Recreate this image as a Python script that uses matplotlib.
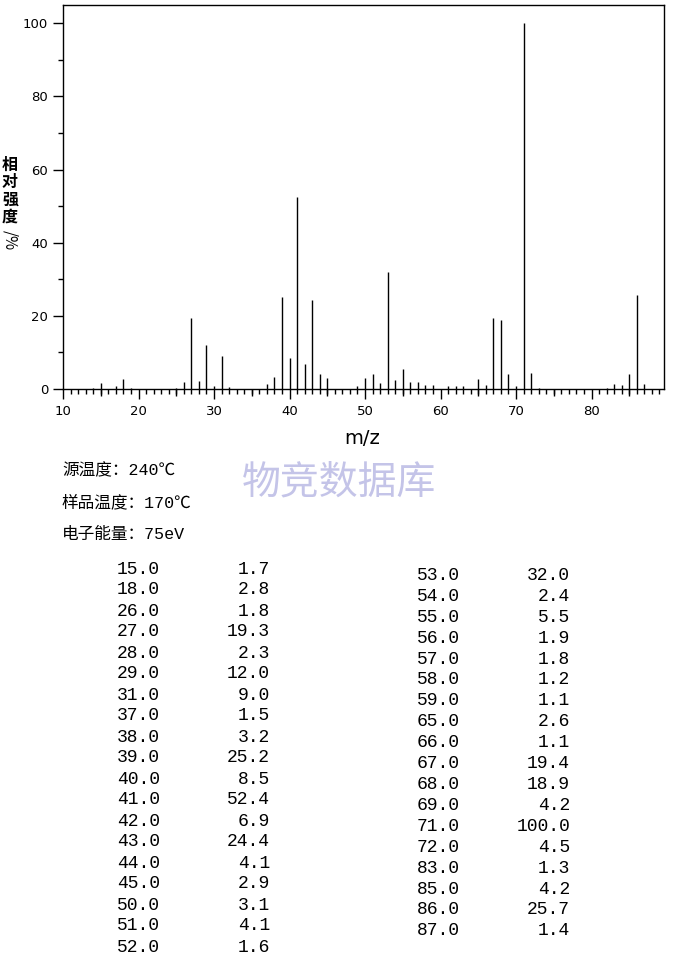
import numpy as np
import matplotlib.pyplot as plt

# peak list as printed in the table (m/z, relative intensity %)
table_mz = [15.0, 18.0, 26.0, 27.0, 28.0, 29.0, 31.0, 37.0, 38.0, 39.0,
            40.0, 41.0, 42.0, 43.0, 44.0, 45.0, 50.0, 51.0, 52.0,
            53.0, 54.0, 55.0, 56.0, 57.0, 58.0, 59.0, 65.0, 66.0, 67.0,
            68.0, 69.0, 71.0, 72.0, 83.0, 85.0, 86.0, 87.0]
table_int = [1.7, 2.8, 1.8, 19.3, 2.3, 12.0, 9.0, 1.5, 3.2, 25.2,
             8.5, 52.4, 6.9, 24.4, 4.1, 2.9, 3.1, 4.1, 1.6,
             32.0, 2.4, 5.5, 1.9, 1.8, 1.2, 1.1, 2.6, 1.1, 19.4,
             18.9, 4.2, 100.0, 4.5, 1.3, 4.2, 25.7, 1.4]
n_left = 19  # rows in the left column of the table

# small peaks that only show up in the spectrum
minor_mz = [14, 17, 19, 25, 30, 32, 49, 61, 62, 63, 70, 73, 82, 84]
minor_int = [0.3, 0.9, 0.4, 0.4, 0.7, 0.5, 0.7, 0.7, 0.7, 0.7, 0.8, 0.4, 0.4, 1.0]

conditions = ["源温度：240℃", "样品温度：170℃", "电子能量：75eV"]
watermark = "物竞数据库"

W, H = 680, 964
fig = plt.figure(figsize=(W / 100, H / 100), dpi=100)
cjk = ['Noto Sans CJK SC', 'DejaVu Sans']

def fx(px):
    return px / W

def fy(py):
    return 1 - py / H

ax = fig.add_axes([fx(63), fy(389), (664 - 63) / W, (389 - 5) / H])

mz = np.array(table_mz + minor_mz)
inten = np.array(table_int + minor_int)
ax.vlines(mz, 0, inten, color='black', linewidth=1.0)

ax.set_xlim(10, 89.6)
ax.set_ylim(0, 105)

ax.set_xticks(np.arange(10, 90, 10))
ax.set_xticks(np.arange(10, 90, 1), minor=True)
ax.set_yticks(np.arange(0, 101, 20))
ax.set_yticks(np.arange(10, 100, 20), minor=True)
ax.tick_params(which='major', direction='out', length=7.2, width=1, labelsize=9.5, pad=4)
ax.tick_params(which='minor', direction='out', length=3.6, width=1)
ax.tick_params(axis='y', which='major', length=7, pad=3.6)
ax.tick_params(axis='y', which='minor', length=3.3)

# the ticks at every 5 are a bit longer
sec = ax.secondary_xaxis('bottom')
sec.set_xticks(np.arange(15, 90, 10))
sec.tick_params(direction='out', length=5, width=1, labelbottom=False)
sec.spines['bottom'].set_visible(False)

for s in ax.spines.values():
    s.set_linewidth(1.0)

fig.text(fx(362), fy(439), "m/z", fontsize=14, ha='center', va='center')

# vertical y label
fig.text(fx(10), fy(191), "相\n对\n强\n度", family=cjk, fontsize=11.5,
         weight='bold', ha='center', va='center', linespacing=1.1)
fig.text(fx(10), fy(240), "/%", family=cjk, fontsize=11, rotation=-90,
         ha='center', va='center')

# measurement conditions
for i, t in enumerate(conditions):
    fig.text(fx(62), fy(470 + 32 * i), t, family=['Liberation Mono', 'Noto Sans CJK SC'],
             fontsize=12, ha='left', va='center')

fig.text(fx(339), fy(483), watermark, family=cjk, fontsize=28,
         color='#c4c4e8', ha='center', va='center')

# peak table, two columns
for i in range(len(table_mz)):
    if i < n_left:
        y = 573.5 + 21 * i
        x1, x2 = 160, 270
    else:
        y = 580 + 20.9 * (i - n_left)
        x1, x2 = 460, 570
    fig.text(fx(x1), fy(y), f"{table_mz[i]:.1f}", family='Liberation Mono',
             fontsize=13, ha='right', va='baseline')
    fig.text(fx(x2), fy(y), f"{table_int[i]:.1f}", family='Liberation Mono',
             fontsize=13, ha='right', va='baseline')

fig.savefig("out.png", dpi=100)
